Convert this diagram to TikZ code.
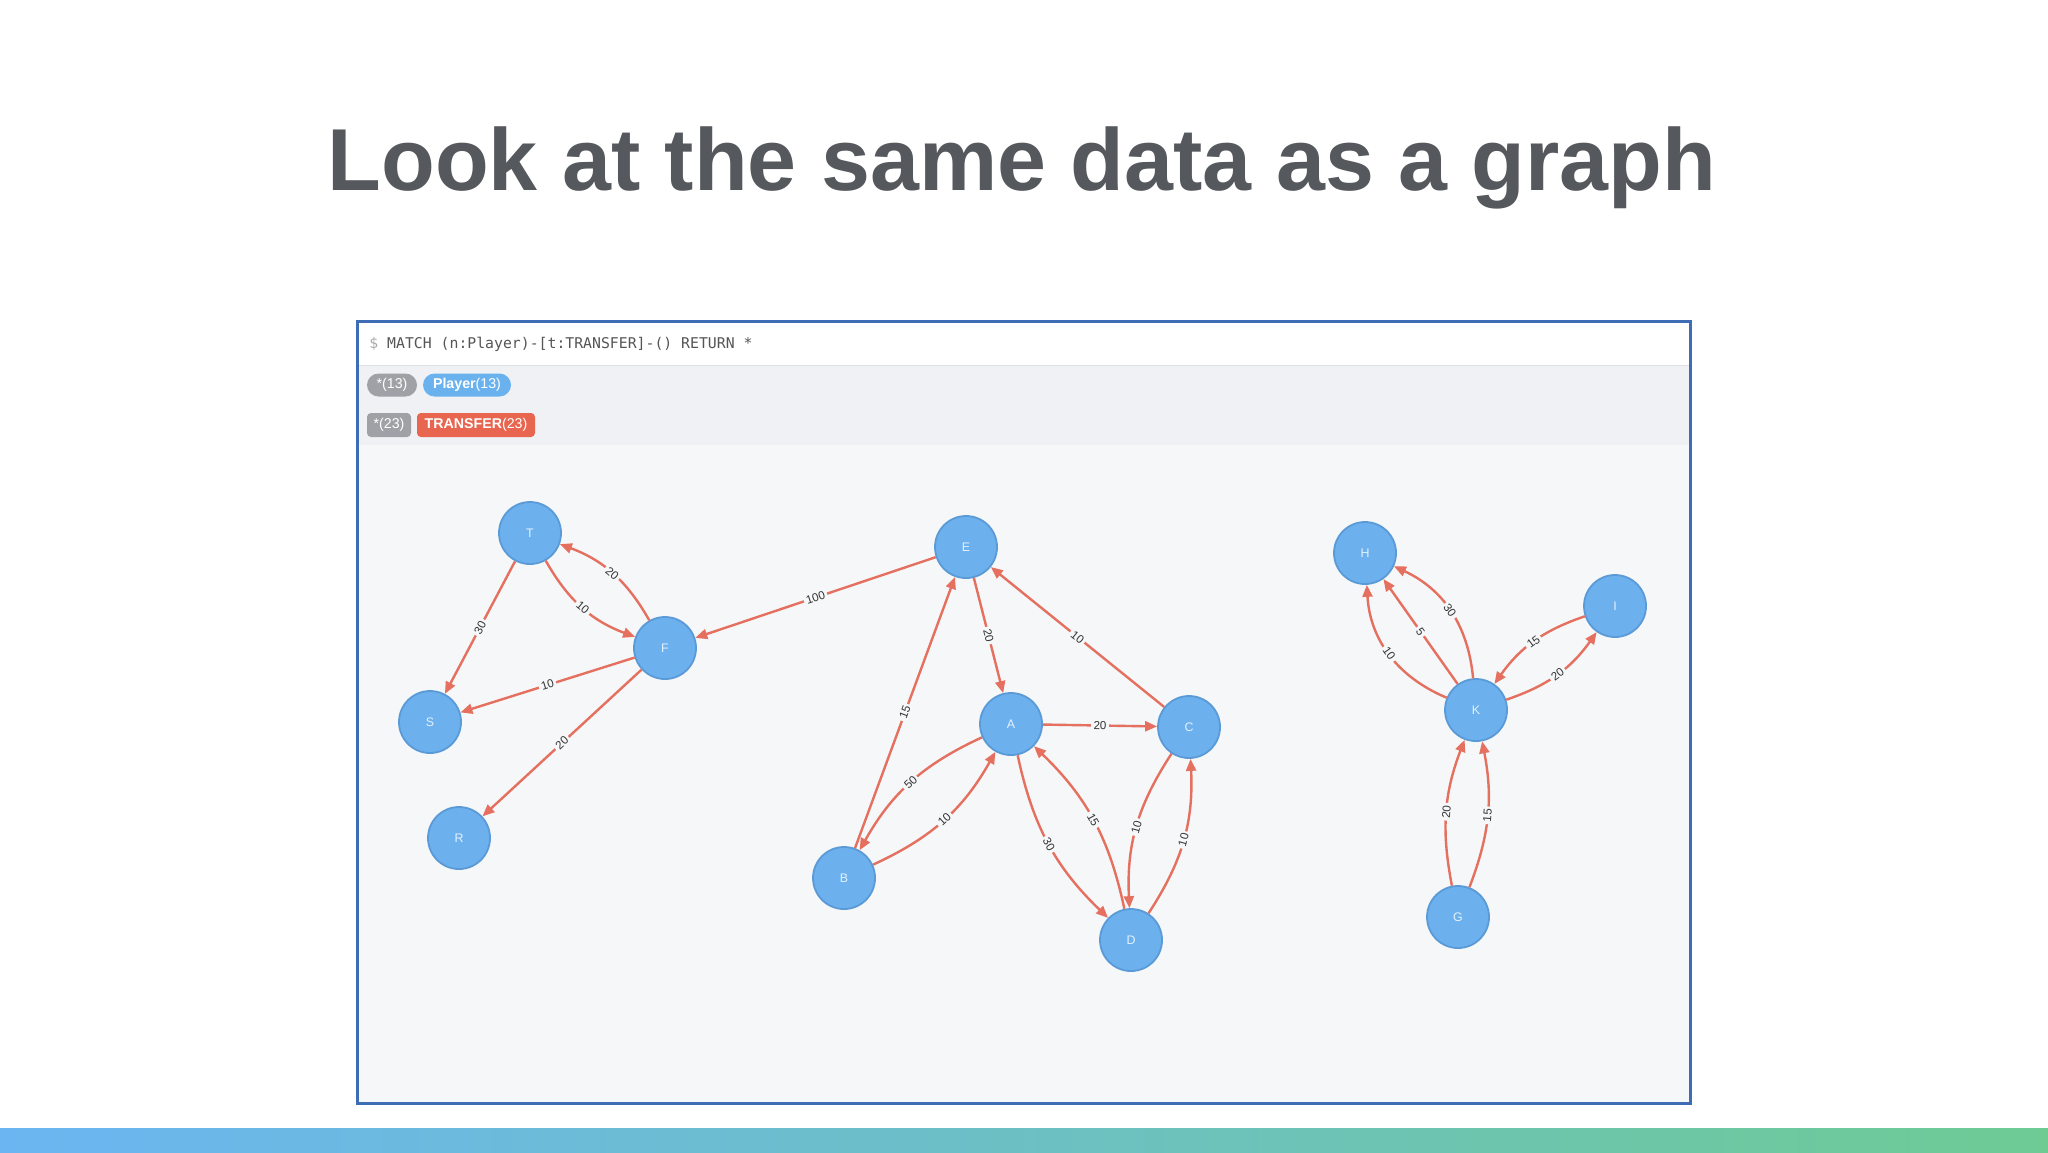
\documentclass[tikz,border=0pt]{standalone}
\usepackage{fontspec}
\setmainfont{Liberation Sans}
\newfontfamily\monof{DejaVu Sans Mono}
\usetikzlibrary{arrows.meta}
\definecolor{titlegray}{HTML}{55585D}
\definecolor{framecol}{HTML}{3F6DB5}
\definecolor{headgray}{HTML}{EFF1F4}
\definecolor{canvasbg}{HTML}{F5F7F9}
\definecolor{nodefill}{HTML}{6DB0EE}
\definecolor{nodedraw}{HTML}{5A9AD6}
\definecolor{nodetext}{HTML}{E3F1FD}
\definecolor{edgecol}{HTML}{E5705F}
\definecolor{pillgray}{HTML}{A0A1A6}
\definecolor{pillblue}{HTML}{6AB2EE}
\definecolor{pillred}{HTML}{E8654F}
\definecolor{barleft}{HTML}{6BB5F2}
\definecolor{barright}{HTML}{6ECB94}
\definecolor{querytext}{HTML}{555555}
\definecolor{dollar}{HTML}{AAAAAA}
\definecolor{lbltext}{HTML}{333333}
\tikzset{
  player/.style={circle, minimum size=31pt, inner sep=0pt, fill=nodefill, draw=nodedraw, line width=0.9pt,
    text=nodetext, font=\fontsize{6.2}{7}\selectfont},
  edge/.style={draw=edgecol, line width=1.2pt, -{Triangle[length=6pt,width=5pt]}},
  lbl/.style={sloped, fill=canvasbg, inner sep=1.2pt, text=lbltext, font=\fontsize{5.8}{6}\selectfont},
  pill/.style={rounded corners=5.75pt, minimum height=11.5pt, inner sep=0pt, text=white, font=\fontsize{7.1}{8}\selectfont},
  tag/.style={rounded corners=2pt, minimum height=12pt, inner sep=0pt, text=white, font=\fontsize{7.1}{8}\selectfont},
}
\begin{document}
\begin{tikzpicture}[x=0.5pt,y=-0.5pt]
\useasboundingbox (0,0) rectangle (2048,1152);
\fill[white] (0,0) rectangle (2048,1152);
% title
\node[anchor=base, text=titlegray, font=\bfseries\fontsize{44}{50}\selectfont, inner sep=0pt] (title) at (1022,190) {Look at the same data as a graph};
% frame
\fill[canvasbg] (357,321) rectangle (1690,1103);
\fill[headgray] (357,365) rectangle (1690,445);
\fill[white] (357,321) rectangle (1690,365);
\draw[headgray!85!gray, line width=0.4pt] (357,365) -- (1690,365);
\draw[framecol, line width=1.5pt] (357,321) rectangle (1690,1103);
\node[anchor=base west, inner sep=0pt, text=querytext, font=\monof\fontsize{7.4}{9}\selectfont] (query) at (369,348) {\textcolor{dollar}{\$} MATCH (n:Player)-[t:TRANSFER]-() RETURN *};
% filter pills
\node[pill, fill=pillgray, minimum width=25pt] (allnodes) at (392,385) {*(13)};
\node[pill, fill=pillblue, minimum width=44pt] (playerpill) at (467,385) {\textbf{Player}(13)};
\node[tag, fill=pillgray, minimum width=22pt] (allrels) at (389,425) {*(23)};
\node[tag, fill=pillred, minimum width=59pt] (transferpill) at (476,425) {\textbf{TRANSFER}(23)};
% nodes
\node[player] (T) at (530,533) {T};
\node[player] (F) at (665,648) {F};
\node[player] (S) at (430,722) {S};
\node[player] (R) at (459,838) {R};
\node[player] (E) at (966,547) {E};
\node[player] (A) at (1011,724) {A};
\node[player] (C) at (1189,727) {C};
\node[player] (B) at (844,878) {B};
\node[player] (D) at (1131,940) {D};
\node[player] (H) at (1365,553) {H};
\node[player] (I) at (1615,606) {I};
\node[player] (K) at (1476,710) {K};
\node[player] (G) at (1458,917) {G};
% edges
\draw[edge] (T) -- node[lbl] {30} (S);
\draw[edge] (T) to[bend right=20] node[lbl] {10} (F);
\draw[edge] (F) to[bend right=20] node[lbl] {20} (T);
\draw[edge] (F) -- node[lbl] {10} (S);
\draw[edge] (F) -- node[lbl] {20} (R);
\draw[edge] (E) -- node[lbl] {100} (F);
\draw[edge] (E) -- node[lbl] {20} (A);
\draw[edge] (C) -- node[lbl] {10} (E);
\draw[edge] (B) -- node[lbl] {15} (E);
\draw[edge] (A) -- node[lbl] {20} (C);
\draw[edge] (A) to[bend right=18] node[lbl] {50} (B);
\draw[edge] (B) to[bend right=18] node[lbl] {10} (A);
\draw[edge] (A) to[bend right=17] node[lbl] {30} (D);
\draw[edge] (D) to[bend right=17] node[lbl] {15} (A);
\draw[edge] (C) to[bend right=18] node[lbl] {10} (D);
\draw[edge] (D) to[bend right=18] node[lbl] {10} (C);
\draw[edge] (K) to[bend right=30] node[lbl] {30} (H);
\draw[edge] (K) -- node[lbl] {5} (H);
\draw[edge] (K) to[bend left=32] node[lbl] {10} (H);
\draw[edge] (I) to[bend right=18] node[lbl] {15} (K);
\draw[edge] (K) to[bend right=18] node[lbl] {20} (I);
\draw[edge] (G) to[bend left=16] node[lbl] {20} (K);
\draw[edge] (G) to[bend right=16] node[lbl] {15} (K);
% bottom bar
\shade[left color=barleft, right color=barright] (0,1128) rectangle (2048,1152);
\end{tikzpicture}
\end{document}
